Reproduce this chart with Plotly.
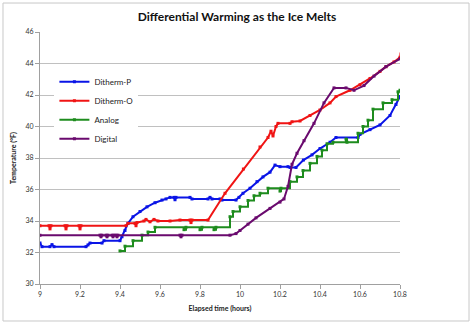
import plotly.graph_objects as go

# ---- data ----
dp_x = [9.0, 9.01, 9.05, 9.06, 9.07, 9.23, 9.24, 9.25, 9.31, 9.32, 9.4, 9.41, 9.425, 9.44,
        9.465, 9.5, 9.535, 9.575, 9.61, 9.63, 9.65, 9.67, 9.675, 9.68, 9.75, 9.76, 9.84,
        9.85, 9.86, 9.9, 9.91, 9.98, 9.995, 10.015, 10.05, 10.085, 10.115, 10.15, 10.175,
        10.2, 10.24, 10.25, 10.28, 10.317, 10.36, 10.4, 10.45, 10.48, 10.59, 10.6, 10.65,
        10.7, 10.75, 10.78, 10.8]
dp_y = [32.6, 32.37, 32.37, 32.5, 32.37, 32.37, 32.48, 32.6, 32.6, 32.75, 32.75, 33.0, 33.4,
        33.85, 34.27, 34.6, 34.9, 35.16, 35.33, 35.4, 35.5, 35.5, 35.35, 35.5, 35.5, 35.4,
        35.4, 35.5, 35.4, 35.4, 35.33, 35.33, 35.5, 35.76, 36.08, 36.5, 36.8, 37.1, 37.55,
        37.45, 37.45, 37.4, 37.4, 37.87, 38.2, 38.6, 39.0, 39.3, 39.3, 39.5, 39.8,
        40.1, 40.7, 41.4, 41.9]

do_x = [9.0, 9.045, 9.05, 9.055, 9.125, 9.13, 9.135, 9.195, 9.2, 9.205, 9.43, 9.44, 9.475,
        9.48, 9.485, 9.52, 9.53, 9.55, 9.57, 9.59, 9.65, 9.7, 9.75, 9.755, 9.76, 9.84,
        9.925, 10.017, 10.1, 10.14, 10.155, 10.165, 10.18, 10.19, 10.25, 10.26, 10.3,
        10.35, 10.4, 10.45, 10.48, 10.55, 10.6, 10.65, 10.7, 10.73, 10.77, 10.8, 10.805]
do_y = [33.7, 33.7, 33.5, 33.7, 33.7, 33.5, 33.7, 33.7, 33.5, 33.7, 33.7, 33.85, 33.85,
        33.7, 33.9, 34.0, 34.1, 33.95, 34.1, 34.0, 34.0, 34.06, 34.06, 33.9, 34.06, 34.06,
        35.76, 37.3, 38.7, 39.3, 39.7, 39.4, 40.0, 40.2, 40.2, 40.3, 40.35,
        40.7, 41.05, 41.5, 41.9, 42.3, 42.65, 43.05, 43.5, 43.8, 44.1, 44.4, 44.6]

an_x = [9.4, 9.425, 9.465, 9.51, 9.54, 9.575, 9.72, 9.73, 9.8, 9.81, 9.87, 9.88, 9.95,
        9.965, 10.0, 10.04, 10.07, 10.1, 10.14, 10.2, 10.205, 10.25, 10.285, 10.315,
        10.35, 10.385, 10.41, 10.435, 10.465, 10.53, 10.535, 10.59, 10.615, 10.64,
        10.665, 10.715, 10.76, 10.79, 10.8]
an_y = [32.1, 32.4, 32.75, 33.1, 33.3, 33.6, 33.45, 33.6, 33.45, 33.6, 33.45, 33.6, 34.27,
        34.6, 34.9, 35.3, 35.6, 35.76, 36.08, 35.9, 36.08, 36.5, 36.8, 37.2,
        37.66, 38.1, 38.5, 38.9, 39.0, 39.2, 39.0, 39.57, 40.0, 40.4,
        41.1, 41.5, 41.7, 42.2, 42.3]

dg_x = [9.0, 9.3, 9.305, 9.31, 9.33, 9.335, 9.34, 9.36, 9.365, 9.37, 9.38, 9.385, 9.39,
        9.7, 9.705, 9.71, 9.95, 9.98, 10.0, 10.04, 10.08, 10.15, 10.2, 10.22, 10.24,
        10.26, 10.285, 10.32, 10.37, 10.42, 10.47, 10.53, 10.57, 10.62, 10.67, 10.73, 10.8]
dg_y = [33.1, 33.1, 33.0, 33.1, 33.1, 33.0, 33.1, 33.1, 33.0, 33.1, 33.1, 33.0, 33.1,
        33.1, 33.0, 33.1, 33.1, 33.2, 33.4, 33.8, 34.2, 34.8, 35.2, 35.4, 36.2,
        37.6, 38.3, 39.1, 40.2, 41.5, 42.45, 42.45, 42.3, 42.6, 43.2, 43.8, 44.3]

x_ticks = [9, 9.2, 9.4, 9.6, 9.8, 10, 10.2, 10.4, 10.6, 10.8]
x_tick_labels = ["9", "9.2", "9.4", "9.6", "9.8", "10", "10.2", "10.4", "10.6", "10.8"]
y_ticks = [30, 32, 34, 36, 38, 40, 42, 44, 46]

FONT = "Lato"

fig = go.Figure()
series = [
    ("Ditherm-P", dp_x, dp_y, "#0a14e6", "linear"),
    ("Ditherm-O", do_x, do_y, "#f01414", "linear"),
    ("Analog", an_x, an_y, "#1e8c1e", "hv"),
    ("Digital", dg_x, dg_y, "#6a0a6e", "linear"),
]
for name, xs, ys, col, shape in series:
    fig.add_trace(go.Scatter(
        x=xs, y=ys, name=name, mode="lines+markers",
        line=dict(color=col, width=2, shape=shape),
        marker=dict(color=col, size=3, symbol="square"),
    ))

fig.update_layout(
    width=474, height=324,
    margin=dict(l=40, r=74, t=32, b=40),
    paper_bgcolor="white", plot_bgcolor="white",
    font=dict(family=FONT, color="#333333", size=7),
    title=dict(text="<b>Differential Warming as the Ice Melts</b>",
               x=0.5, xref="container", y=1 - 17 / 324, yref="container",
               xanchor="center", yanchor="middle",
               font=dict(family=FONT, size=12, color="#111111")),
    legend=dict(x=0.04, y=0.86, xanchor="left", yanchor="top",
                bgcolor="white", font=dict(family=FONT, size=8, color="#222222"),
                itemwidth=30, tracegroupgap=0),
    shapes=[dict(type="rect", xref="paper", yref="paper",
                 x0=-0.1028, x1=1.1917, y0=-0.1468, y1=1.115,
                 line=dict(color="#c8c8c8", width=1), layer="below")],
)
fig.update_xaxes(range=[9, 10.8], tickvals=x_ticks, ticktext=x_tick_labels,
                 showgrid=False, zeroline=False, showline=True, linecolor="#a0a0a0",
                 linewidth=1, ticks="outside", ticklen=4, tickcolor="#a0a0a0",
                 tickfont=dict(size=7, color="#333333"),
                 title=dict(text="<b>Elapsed time (hours)</b>", standoff=8,
                            font=dict(size=7, color="#222222")))
fig.update_yaxes(range=[30, 46], tickvals=y_ticks, showgrid=True, gridcolor="#c0c0c0",
                 gridwidth=1, zeroline=False, showline=True, linecolor="#a0a0a0",
                 linewidth=1, ticks="outside", ticklen=4, tickcolor="#a0a0a0",
                 tickfont=dict(size=7, color="#333333"),
                 title=dict(text="<b>Temperature (°F)</b>", standoff=8,
                            font=dict(size=7, color="#222222")))

fig.write_html("out.html")
